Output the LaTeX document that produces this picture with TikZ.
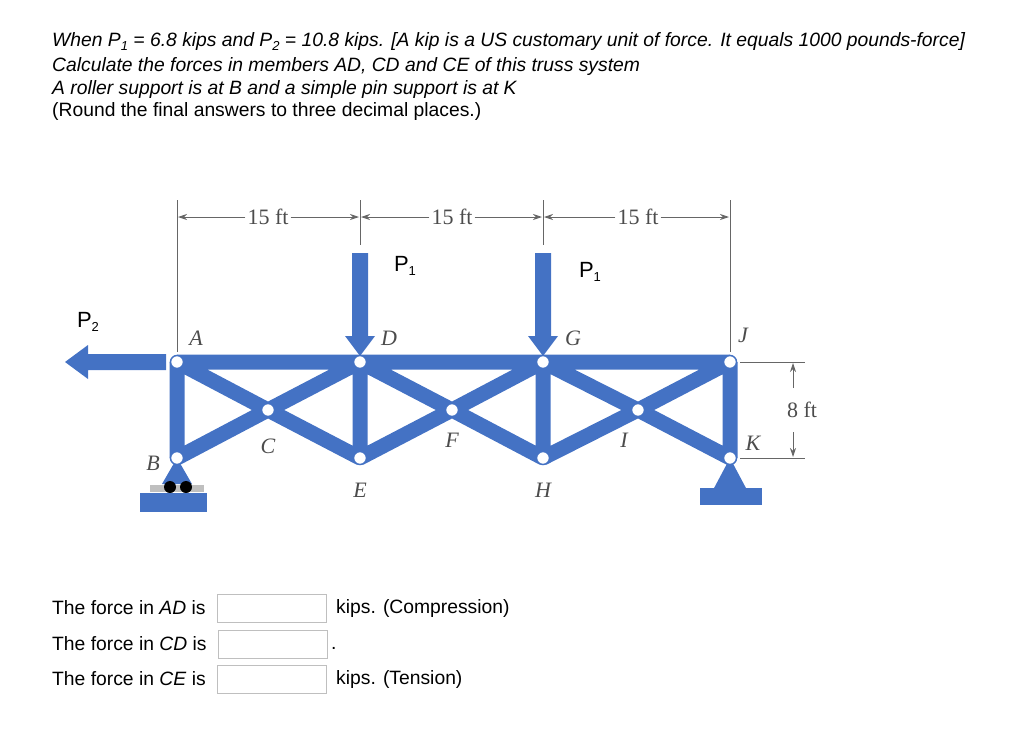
\documentclass[tikz,border=0pt]{standalone}
\usepackage{fontspec}
\setmainfont{Liberation Sans}
\newfontfamily\serifa{Liberation Serif}
\usetikzlibrary{arrows.meta}
\definecolor{tb}{HTML}{4472C4}
\newcommand{\sbs}[1]{\raisebox{-0.35ex}{\fontsize{13}{13}\selectfont #1}}
\begin{document}
\begin{tikzpicture}[x=1pt,y=-1pt,
  mem/.style={tb,line width=15pt},
  jnt/.style={circle,draw=tb,fill=white,line width=1.5pt,inner sep=0pt,minimum size=13pt},
  lab/.style={font=\serifa\itshape\fontsize{22}{22}\selectfont,text=black!70},
  dim/.style={font=\serifa\fontsize{22}{22}\selectfont,text=black!70},
  dl/.style={black!60,line width=0.9pt},
  q/.style={font=\itshape\fontsize{19.3}{21}\selectfont,anchor=west,inner sep=0pt},
  a/.style={font=\fontsize{19.3}{21}\selectfont,anchor=west,inner sep=0pt},
  pl/.style={font=\fontsize{22}{22}\selectfont},
  box/.style={draw=black!25,minimum width=109pt,minimum height=28pt,inner sep=0pt}]
\useasboundingbox (0,0) rectangle (1024,739);
% text
\node[q] at (52,42) {When P\sbs{1} = 6.8 kips and P\sbs{2} = 10.8 kips. [A kip is a US customary unit of force. It equals 1000 pounds-force]};
\node[q] at (52,67) {Calculate the forces in members AD, CD and CE of this truss system};
\node[q] at (52,90) {A roller support is at B and a simple pin support is at K};
\node[a] at (52,112) {(Round the final answers to three decimal places.)};
% coordinates
\coordinate (A) at (177,362); \coordinate (D) at (360,362); \coordinate (G) at (543,362); \coordinate (J) at (730,362);
\coordinate (B) at (177,458); \coordinate (E) at (360,458); \coordinate (H) at (543,458); \coordinate (K) at (730,458);
\coordinate (C) at (268,410); \coordinate (F) at (452,410); \coordinate (I) at (638,410);
% supports
\fill[tb] (177,458) -- (162,484) -- (192,484) -- cycle;
\fill[black!25] (150,485) rectangle (204,492);
\fill[black] (170,487) circle (6pt) (186,487) circle (6pt);
\fill[tb] (140,493) rectangle (207,512);
\fill[tb] (730,458) -- (713,490) -- (747,490) -- cycle;
\fill[tb] (700,488) rectangle (762,505);
% members
\draw[mem] (A)--(J) (A)--(B) (D)--(E) (G)--(H) (J)--(K)
 (A)--(C)--(E) (B)--(C)--(D) (D)--(F)--(H) (E)--(F)--(G) (G)--(I)--(K) (H)--(I)--(J);
\foreach \n in {A,D,G,J,B,E,H,K,C,F,I} \node[jnt] (n\n) at (\n) {};
% loads
\fill[tb] (352,253) rectangle (368,336) (345,336) -- (375,336) -- (360,356) -- cycle;
\fill[tb] (535,253) rectangle (551,336) (528,336) -- (558,336) -- (543,356) -- cycle;
\fill[tb] (166,354) rectangle (88,370) (88,345) -- (88,379) -- (65,362) -- cycle;
\node[pl] at (405,266) {P\sbs{1}};
\node[pl] at (590,272) {P\sbs{1}};
\node[pl] at (88,322) {P\sbs{2}};
% labels
\node[lab] at (196,338) {A}; \node[lab] at (389,338) {D}; \node[lab] at (573,338) {G}; \node[lab] at (743,335) {J};
\node[lab] at (268,446) {C}; \node[lab] at (452,440) {F}; \node[lab] at (624,440) {I}; \node[lab] at (753,443) {K};
\node[lab] at (153,463) {B}; \node[lab] at (360,490) {E}; \node[lab] at (543,490) {H};
% dimensions
\draw[dl] (177,200) -- (177,352) (360,200) -- (360,245) (543,200) -- (543,245) (730,200) -- (730,352);
\foreach \x/\y/\m in {177/360/268,360/543/452,543/730/638}{
  \node[dim,fill=white,inner sep=2pt] (d\m) at (\m,217) {15 ft};
  \draw[dl,-{Stealth[length=9pt,width=6pt]}] (d\m.west) -- (\x+1,217);
  \draw[dl,-{Stealth[length=9pt,width=6pt]}] (d\m.east) -- (\y-1,217);}
\draw[dl] (740,362) -- (805,362) (740,458) -- (805,458);
\node[dim] (h8) at (802,410) {8 ft};
\draw[dl,-{Stealth[length=9pt,width=6pt]}] (793,388) -- (793,363);
\draw[dl,-{Stealth[length=9pt,width=6pt]}] (793,432) -- (793,457);
% answers
\node[a] at (52,608) {The force in \textit{AD} is};
\node[a] at (52,644) {The force in \textit{CD} is};
\node[a] at (52,679) {The force in \textit{CE} is};
\node[box] (b1) at (272,608) {}; \node[box] (b2) at (273,644) {}; \node[box] (b3) at (272,679) {};
\node[a] at (336,608) {kips. (Compression)};
\node[a] at (331,648) {.};
\node[a] at (336,679) {kips. (Tension)};
\end{tikzpicture}
\end{document}
